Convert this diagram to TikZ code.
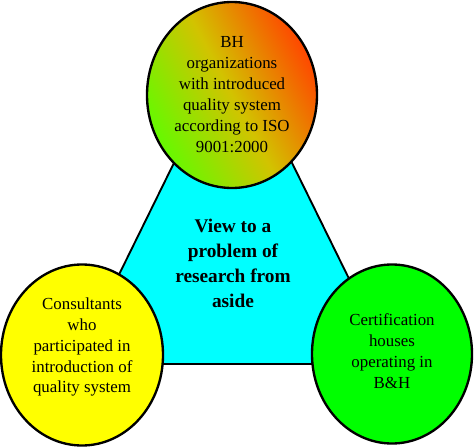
\documentclass[tikz,border=0pt]{standalone}
\usepackage{fontspec}
\setmainfont{Liberation Serif}
\usetikzlibrary{shapes.geometric}
\definecolor{bhgreen}{RGB}{100,250,0}
\definecolor{bhmid}{RGB}{210,195,0}
\definecolor{bhorange}{RGB}{255,70,0}
\definecolor{viewcyan}{RGB}{0,255,255}
\definecolor{consultyellow}{RGB}{255,255,0}
\definecolor{certgreen}{RGB}{0,255,0}
\begin{document}
\begin{tikzpicture}[x=0.03cm, y=-0.03cm,
    bubble/.style={ellipse, draw, line width=2pt, inner sep=0pt},
    txt/.style={align=center, font=\fontsize{14.4}{17.9}\selectfont}]
    \useasboundingbox (0,0) rectangle (474,448);
    % 1. Triangle in the middle
    \coordinate (apex) at (233,43);
    \coordinate (bl) at (75,364);
    \coordinate (br) at (391,364);
    \draw[fill=viewcyan, line width=1.6pt] (apex) -- (br) -- (bl) -- cycle;
    \node[align=center, font=\bfseries\fontsize{16.5}{21.3}\selectfont] (view) at (233,263)
        {View to a\\problem of\\research from\\aside};

    % 2. The three circles
    \node[bubble, minimum width=5.1cm, minimum height=5.58cm,
        top color=bhorange, bottom color=bhgreen, middle color=bhmid,
        shading angle=-62] (bh) at (232,95) {};
    \node[bubble, minimum width=4.86cm, minimum height=5.43cm, fill=consultyellow] (consult) at (82,355) {};
    \node[bubble, minimum width=4.8cm, minimum height=5.37cm, fill=certgreen] (cert) at (392,354) {};

    % 3. Texts
    \node[txt] (bhtxt) at (bh.center)
        {BH\\organizations\\with introduced\\quality system\\according to ISO\\9001:2000};
    \node[txt] (consulttxt) at ([yshift=0.24cm]consult.center)
        {Consultants\\who\\participated in\\introduction of\\quality system};
    \node[txt] (certtxt) at ([yshift=0.09cm]cert.center)
        {Certification\\houses\\operating in\\B\&H};
\end{tikzpicture}
\end{document}
